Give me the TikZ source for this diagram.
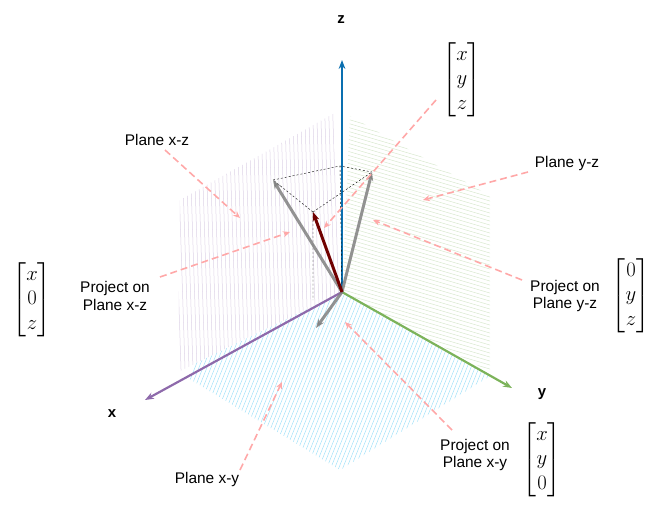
\documentclass[tikz,border=0pt]{standalone}
\usepackage{amsmath}
\usepackage[no-math]{fontspec}
\usetikzlibrary{arrows.meta}
\setmainfont{Liberation Sans}
\definecolor{zc}{HTML}{0A6FB0}
\definecolor{yc}{HTML}{7CB35A}
\definecolor{xc}{HTML}{8E6AAB}
\definecolor{pk}{HTML}{FFA8A8}
\definecolor{dr}{HTML}{700000}
\tikzset{
 lbl/.style={font=\fontsize{15.5}{18}\selectfont, align=center},
 axl/.style={font=\bfseries\fontsize{15}{17}\selectfont},
 pa/.style={pk, line width=1.6pt, dash pattern=on 7pt off 4pt, -{Stealth[length=7pt,width=6pt]}},
 ax/.style={line width=2.2pt, -{Stealth[length=9pt]}},
 gv/.style={gray, line width=3pt, opacity=0.85, -{Stealth[length=9pt]}},
 mt/.style={font=\fontsize{20}{25}\selectfont}
}
\begin{document}
\begin{tikzpicture}[x=1bp,y=-1bp]
\useasboundingbox (0,0) rectangle (663,527);
\coordinate (O) at (342,292);
% x-z plane
\begin{scope}
\clip (O) -- (333,114) -- (180,200) -- (178,372) -- cycle;
\foreach \i in {0,4,...,200} \draw[xc!30, line width=0.5pt] (170+\i,400) -- (160+\i,90);
\end{scope}
% y-z plane
\begin{scope}
\clip (O) -- (350,116) -- (490,196) -- (490,372) -- cycle;
\foreach \i in {0,4,...,330} \draw[yc!30, line width=0.5pt] (330,110+\i) -- (500,160+\i);
\end{scope}
% x-y plane
\begin{scope}
\clip (O) -- (178,372) -- (340,470) -- (490,376) -- cycle;
\foreach \i in {0,4,...,400} \draw[cyan!35, line width=0.5pt] (150+\i,480) -- (230+\i,280);
\end{scope}
% axes
\node[axl] (zl) at (341,20) {z};
\node[axl] (yl) at (542,394) {y};
\node[axl] (xl) at (112,414) {x};
\coordinate (ze) at (342,60);
\coordinate (ye) at (512,388);
\coordinate (xe) at (145,400);
\draw[ax, zc] (O) -- (ze);
\draw[ax, yc] (O) -- (ye);
\draw[ax, xc] (O) -- (xe);
% projections
\coordinate (V) at (313,212);
\coordinate (Pxz) at (273,180);
\coordinate (Pyz) at (372,172);
\coordinate (Pxy) at (316,328);
\coordinate (C) at (340,166);
\draw[thin, dash pattern=on 2pt off 2pt] (V) -- (Pxz) (V) -- (Pyz) (V) -- (313,300) (Pxz) -- (C) -- (Pyz) (C) -- (O);
\draw[gv] (O) -- (Pxz);
\draw[gv] (O) -- (Pyz);
\draw[gv] (O) -- (Pxy);
\draw[dr, line width=3pt, -{Stealth[length=9pt]}] (O) -- (V);
% labels
\node[lbl] (lxz) at (157,140) {Plane x-z};
\node[lbl] (lyz) at (567,164) {Plane y-z};
\node[lbl] (lxy) at (207,480) {Plane x-y};
\node[lbl] (pxz) at (115,296) {Project on\\Plane x-z};
\node[lbl] (pyz) at (565,296) {Project on\\Plane y-z};
\node[lbl] (pxy) at (475,455) {Project on\\Plane x-y};
\node[mt] (m1) at (462,80) {$\begin{bmatrix}x\\y\\z\end{bmatrix}$};
\node[mt] (m2) at (32,300) {$\begin{bmatrix}x\\0\\z\end{bmatrix}$};
\node[mt] (m3) at (631,296) {$\begin{bmatrix}0\\y\\z\end{bmatrix}$};
\node[mt] (m4) at (542,460) {$\begin{bmatrix}x\\y\\0\end{bmatrix}$};
% pink arrows
\coordinate (a1) at (240,218);
\coordinate (a2) at (290,232);
\coordinate (a3) at (324,228);
\coordinate (a4) at (423,200);
\coordinate (a5) at (373,220);
\coordinate (a6) at (345,322);
\coordinate (a7) at (282,382);
\draw[pa] (165,150) -- (a1);
\draw[pa] (160,277) -- (a2);
\draw[pa] (436,100) -- (a3);
\draw[pa] (528,172) -- (a4);
\draw[pa] (522,280) -- (a5);
\draw[pa] (452,430) -- (a6);
\draw[pa] (240,470) -- (a7);
\end{tikzpicture}
\end{document}
